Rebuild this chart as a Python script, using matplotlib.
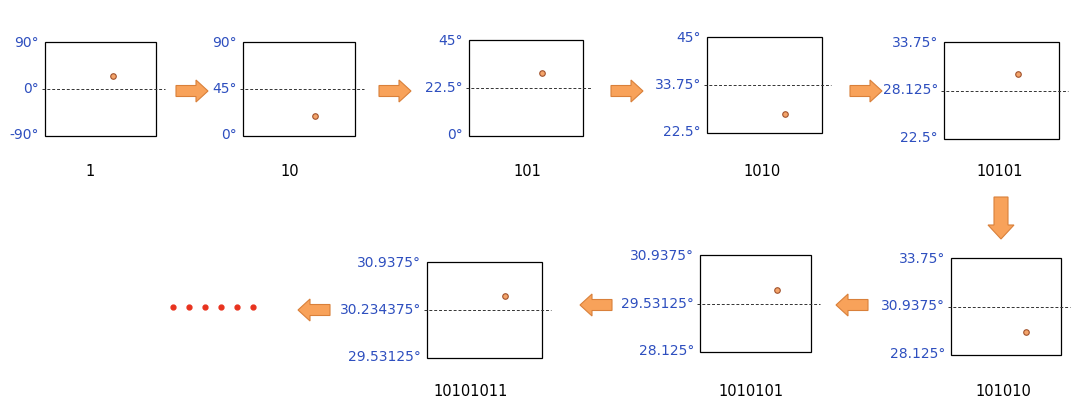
import matplotlib.pyplot as plt
from matplotlib.patches import Rectangle, FancyArrow

codes = ["1", "10", "101", "1010", "10101", "101010", "1010101", "10101011"]
top_vals = ["90°", "90°", "45°", "45°", "33.75°", "33.75°", "30.9375°", "30.9375°"]
mid_vals = ["0°", "45°", "22.5°", "33.75°", "28.125°", "30.9375°", "29.53125°", "30.234375°"]
bot_vals = ["-90°", "0°", "0°", "22.5°", "22.5°", "28.125°", "28.125°", "29.53125°"]
# box bounds in pixels (left, right, top, bottom) and point position
boxes = [(45, 156, 42, 136), (243, 355, 42, 136), (469, 583, 40, 136),
         (707, 822, 37, 133), (944, 1059, 42, 139), (951, 1061, 258, 355),
         (700, 811, 255, 352), (427, 542, 262, 358)]
points = [(113, 76), (315, 116), (542, 73), (785, 114), (1018, 74),
          (1026, 332), (777, 290), (505, 296)]
code_pos = [(90, 172), (290, 172), (527, 172), (762, 172), (1000, 172),
            (1003, 392), (751, 392), (471, 392)]
right_arrows = [(176, 91), (379, 91), (611, 91), (850, 91)]
left_arrows = [(868, 305), (612, 305), (330, 310)]
dots_x = [173, 189, 205, 221, 237, 253]

blue = "#2e4fbf"
orange = "#f8a25a"
edge = "#d9803a"

fig = plt.figure(figsize=(10.8, 4.09), dpi=100)
ax = fig.add_axes([0, 0, 1, 1])
ax.set_xlim(0, 1080)
ax.set_ylim(409, 0)
ax.axis("off")

for i, (l, r, t, b) in enumerate(boxes):
    ax.add_patch(Rectangle((l, t), r - l, b - t, fill=False, ec="black", lw=0.9))
    m = (t + b) / 2
    ax.plot([l - 3, r + 9], [m, m], ls="--", color="#333333", lw=0.7, dashes=(3, 2))
    ax.text(l - 6, t + 1, top_vals[i], color=blue, ha="right", va="center", fontsize=10)
    ax.text(l - 6, m, mid_vals[i], color=blue, ha="right", va="center", fontsize=10)
    ax.text(l - 6, b - 1, bot_vals[i], color=blue, ha="right", va="center", fontsize=10)
    px, py = points[i]
    ax.plot(px, py, "o", ms=4, mfc="#f4a46a", mec="#a0522d", mew=0.8)
    cx, cy = code_pos[i]
    ax.text(cx, cy, codes[i], ha="center", va="center", fontsize=10.5)

for x, y in right_arrows:
    ax.add_patch(FancyArrow(x, y, 32, 0, width=11, head_width=22, head_length=12,
                            length_includes_head=True, fc=orange, ec=edge, lw=0.8))
for x, y in left_arrows:
    ax.add_patch(FancyArrow(x, y, -32, 0, width=11, head_width=22, head_length=12,
                            length_includes_head=True, fc=orange, ec=edge, lw=0.8))
ax.add_patch(FancyArrow(1001, 197, 0, 42, width=14, head_width=26, head_length=14,
                        length_includes_head=True, fc=orange, ec=edge, lw=0.8))

ax.plot(dots_x, [307] * len(dots_x), "o", ms=3.5, color="#e8321e", ls="none")

fig.savefig("out.png", dpi=100)
